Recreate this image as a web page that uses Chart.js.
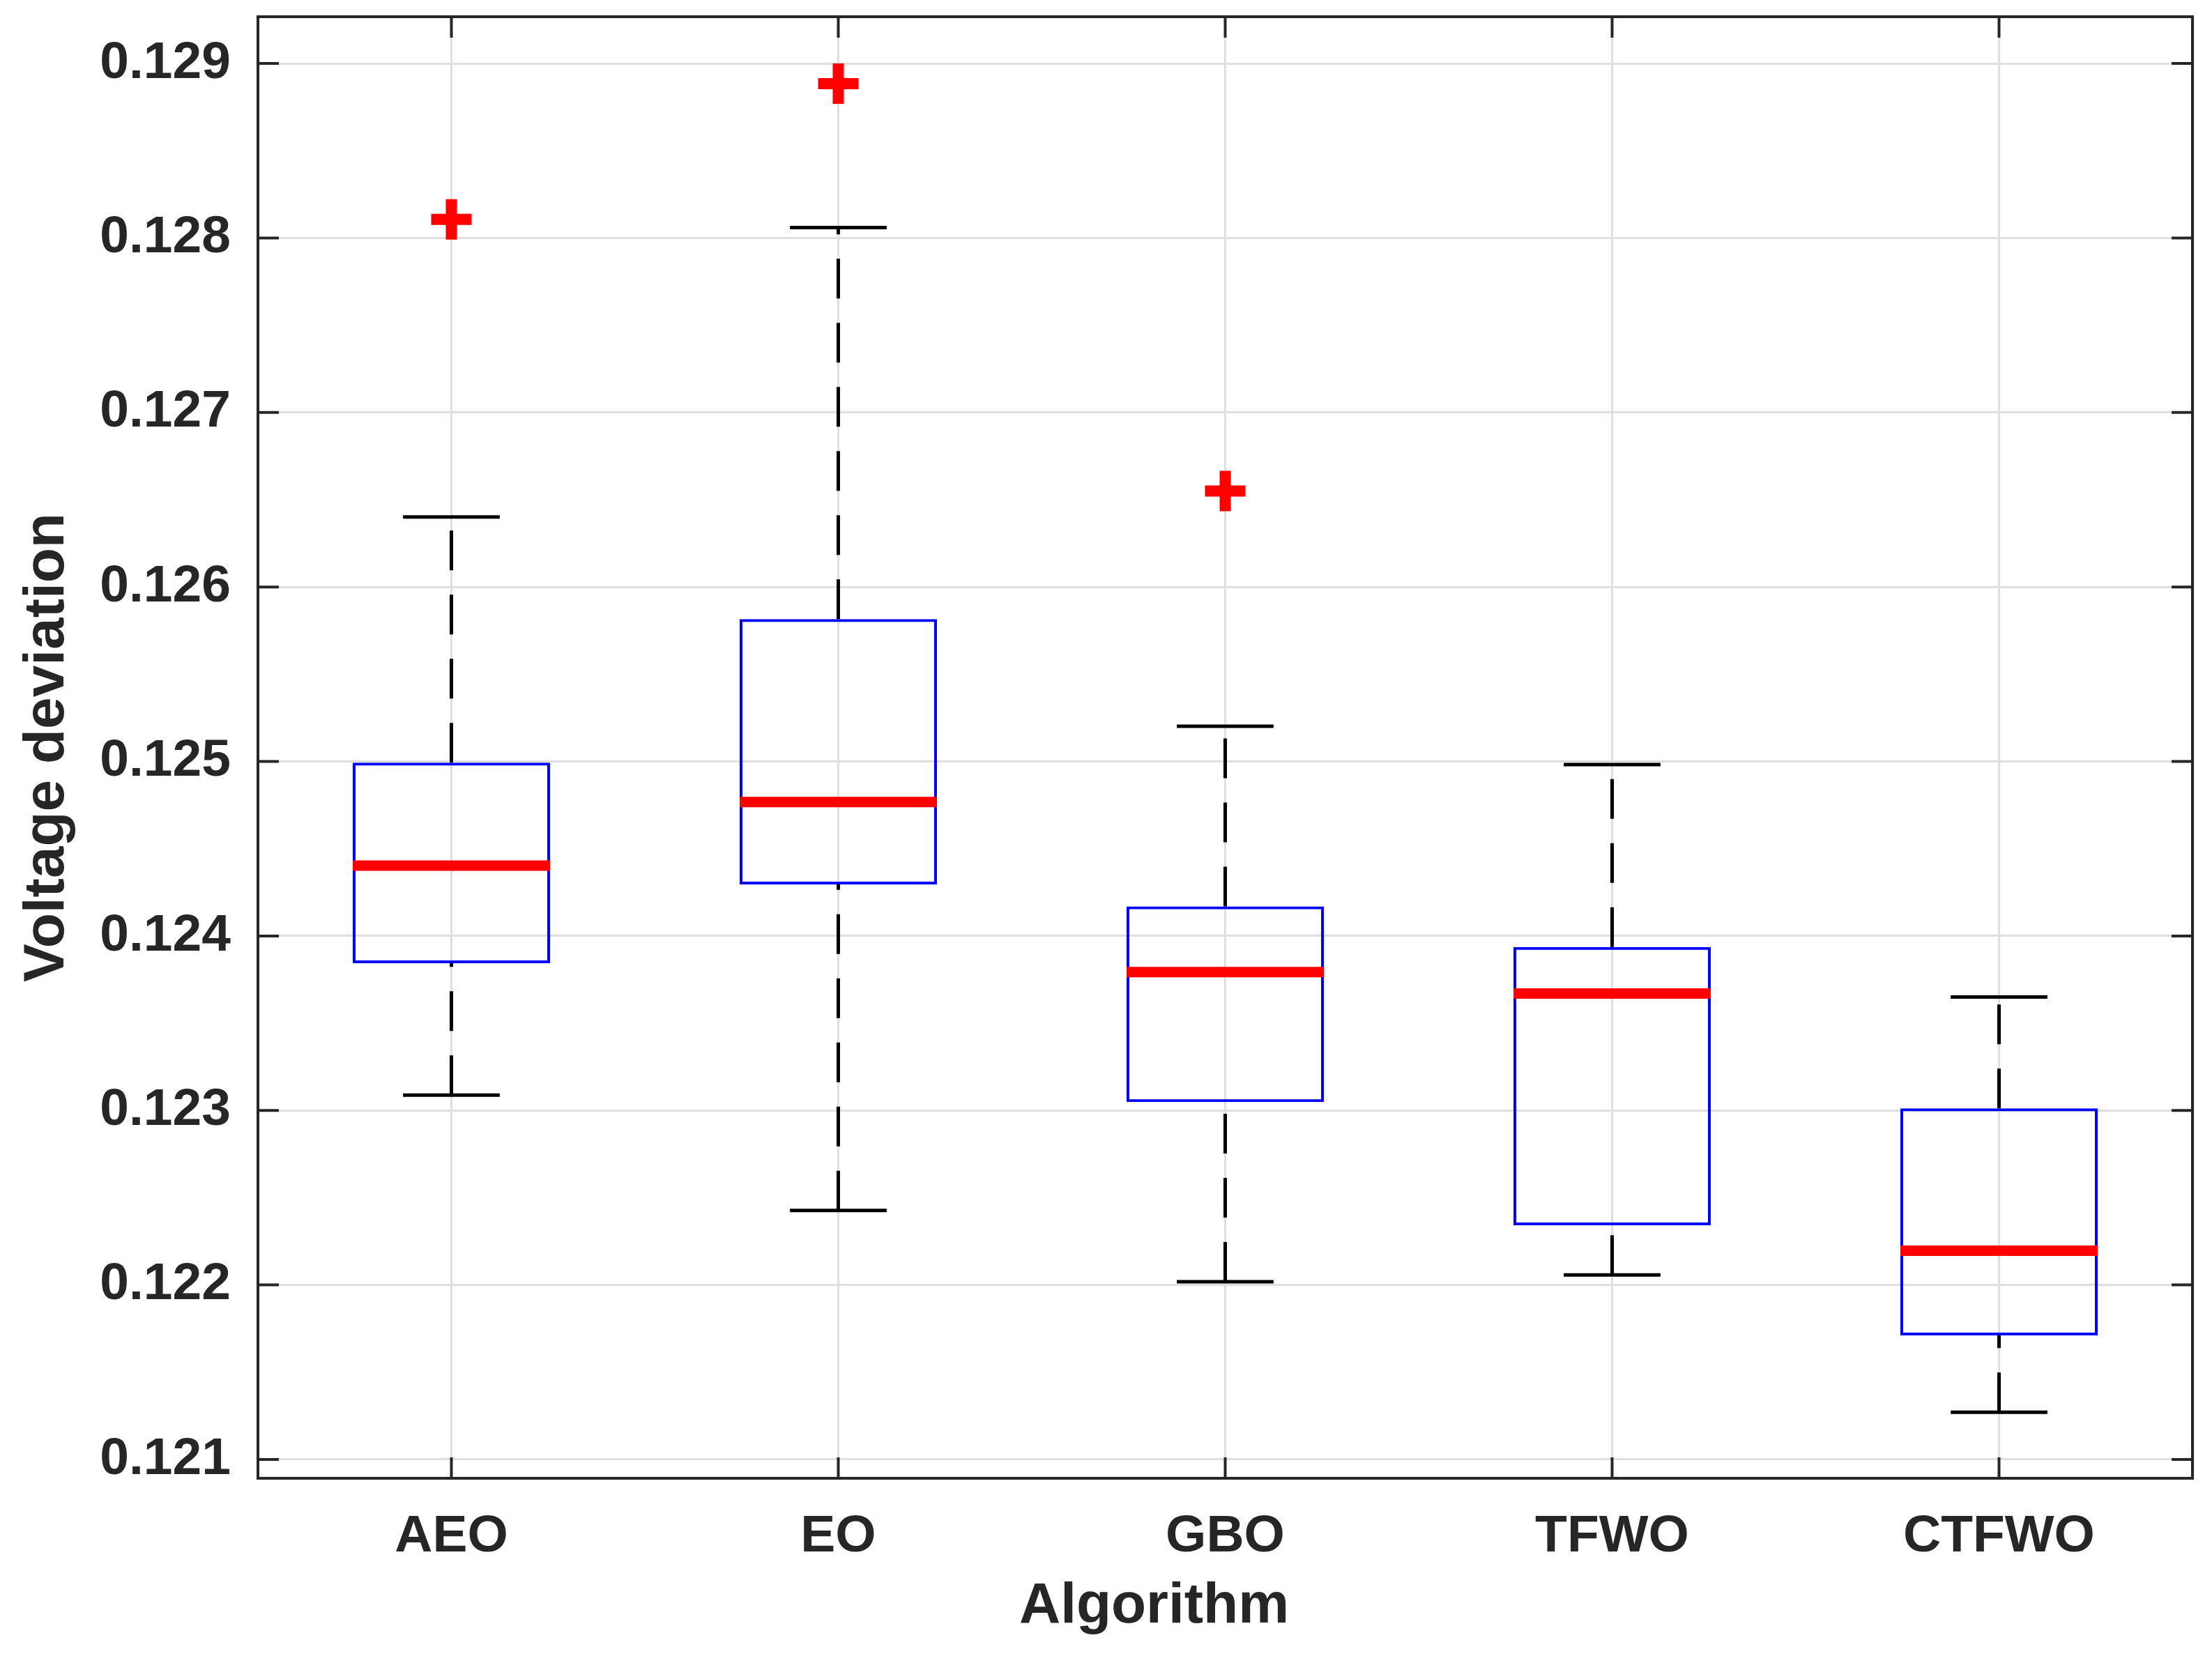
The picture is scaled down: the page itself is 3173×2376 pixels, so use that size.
<!DOCTYPE html>
<html>
<head>
<meta charset="utf-8">
<style>
  html, body { margin: 0; padding: 0; background: #ffffff; }
  #wrap { width: 3173px; height: 2376px; }
</style>
<script src="https://cdn.jsdelivr.net/npm/chart.js@4.4.1/dist/chart.umd.min.js"></script>
</head>
<body>
<div id="wrap"><canvas id="c" width="3173" height="2376"></canvas></div>
<script>
// ---- data ----
const categories   = ['AEO', 'EO', 'GBO', 'TFWO', 'CTFWO'];
const lowerWhisker = [0.123088, 0.122427, 0.122018, 0.122057, 0.121270];
const q1Values     = [0.123844, 0.124295, 0.123048, 0.122342, 0.121711];
const medians      = [0.124403, 0.124767, 0.123793, 0.123670, 0.122196];
const q3Values     = [0.124993, 0.125816, 0.124169, 0.123937, 0.123012];
const upperWhisker = [0.126401, 0.128060, 0.125202, 0.124982, 0.123650];
const outliers     = [0.128107, 0.128885, 0.126550, null, null];
const yTickValues  = [0.121, 0.122, 0.123, 0.124, 0.125, 0.126, 0.127, 0.128, 0.129];
const yTickLabels  = ['0.121', '0.122', '0.123', '0.124', '0.125', '0.126', '0.127', '0.128', '0.129'];
const xTitle = 'Algorithm';
const yTitle = 'Voltage deviation';

const FONT = "'Liberation Sans', Arial, Helvetica, sans-serif";
const TEXT = '#262626';
const GRID = '#dfdfdf';

const boxParts = {
  id: 'boxParts',
  beforeDatasetsDraw(chart) {
    const { ctx, scales: { x, y }, chartArea } = chart;
    const cw = x.getPixelForValue(1) - x.getPixelForValue(0);
    ctx.save();
    ctx.beginPath();
    ctx.rect(chartArea.left, chartArea.top, chartArea.right - chartArea.left, chartArea.bottom - chartArea.top);
    ctx.clip();
    ctx.strokeStyle = '#000000';
    ctx.lineWidth = 5;
    ctx.lineCap = 'butt';
    categories.forEach((c, i) => {
      const px = x.getPixelForValue(i);
      // dashed whiskers, drawn upward in value
      ctx.setLineDash([57, 35]);
      ctx.beginPath();
      ctx.moveTo(px, y.getPixelForValue(q3Values[i]));
      ctx.lineTo(px, y.getPixelForValue(upperWhisker[i]));
      ctx.stroke();
      ctx.beginPath();
      ctx.moveTo(px, y.getPixelForValue(lowerWhisker[i]));
      ctx.lineTo(px, y.getPixelForValue(q1Values[i]));
      ctx.stroke();
      // caps
      ctx.setLineDash([]);
      const half = cw * 0.125;
      [upperWhisker[i], lowerWhisker[i]].forEach(v => {
        const py = y.getPixelForValue(v);
        ctx.beginPath();
        ctx.moveTo(px - half, py);
        ctx.lineTo(px + half, py);
        ctx.stroke();
      });
    });
    ctx.restore();
  },
  afterDatasetsDraw(chart) {
    const { ctx, scales: { x, y }, chartArea } = chart;
    const meta = chart.getDatasetMeta(0);
    ctx.save();
    // medians
    ctx.strokeStyle = '#ff0000';
    ctx.lineWidth = 15;
    ctx.lineCap = 'butt';
    categories.forEach((c, i) => {
      const bar = meta.data[i];
      const px = x.getPixelForValue(i);
      const py = y.getPixelForValue(medians[i]);
      ctx.beginPath();
      ctx.moveTo(px - bar.width / 2, py);
      ctx.lineTo(px + bar.width / 2, py);
      ctx.stroke();
    });
    // frame
    ctx.strokeStyle = TEXT;
    ctx.lineWidth = 4;
    ctx.strokeRect(chartArea.left, chartArea.top, chartArea.right - chartArea.left, chartArea.bottom - chartArea.top);
    // inner tick marks
    const tl = 30;
    ctx.beginPath();
    y.ticks.forEach(t => {
      const py = y.getPixelForValue(t.value);
      ctx.moveTo(chartArea.left, py); ctx.lineTo(chartArea.left + tl, py);
      ctx.moveTo(chartArea.right, py); ctx.lineTo(chartArea.right - tl, py);
    });
    x.ticks.forEach((t, i) => {
      const px = x.getPixelForValue(i);
      ctx.moveTo(px, chartArea.top); ctx.lineTo(px, chartArea.top + tl);
      ctx.moveTo(px, chartArea.bottom); ctx.lineTo(px, chartArea.bottom - tl);
    });
    ctx.stroke();
    // x-axis title (sits a little left of the axis centre in the reference)
    ctx.fillStyle = TEXT;
    ctx.font = "bold 82px " + FONT;
    ctx.textAlign = 'center';
    ctx.textBaseline = 'middle';
    const cx = (chartArea.left + chartArea.right) / 2 - 102;
    ctx.fillText(xTitle, cx, chartArea.bottom + 184);
    ctx.restore();
  }
};

new Chart(document.getElementById('c'), {
  type: 'bar',
  data: {
    labels: categories,
    datasets: [
      {
        label: 'box',
        data: categories.map((c, i) => [q1Values[i], q3Values[i]]),
        backgroundColor: 'rgba(0,0,0,0)',
        borderColor: '#0000ff',
        borderWidth: 4,
        borderSkipped: false,
        categoryPercentage: 1.0,
        barPercentage: 0.51,
        order: 2
      },
      {
        type: 'line',
        label: 'outliers',
        data: outliers,
        showLine: false,
        pointStyle: 'cross',
        pointRadius: 29,
        pointHoverRadius: 29,
        pointBorderWidth: 16,
        pointBorderColor: '#ff0000',
        pointBackgroundColor: '#ff0000',
        order: 1
      }
    ]
  },
  options: {
    responsive: false,
    devicePixelRatio: 1,
    animation: false,
    events: [],
    layout: { autoPadding: false, padding: { left: 0, right: 28, top: 24, bottom: 0 } },
    plugins: { legend: { display: false }, tooltip: { enabled: false } },
    scales: {
      x: {
        type: 'category',
        offset: true,
        grid: { offset: false, color: GRID, lineWidth: 3, drawTicks: false },
        border: { display: false },
        ticks: { color: TEXT, padding: 39, font: { family: FONT, size: 75, weight: 'bold' }, maxRotation: 0 },
        title: { display: false, text: xTitle },
        afterFit(scale) { scale.height = 255; scale.paddingLeft = 0; scale.paddingRight = 0; }
      },
      y: {
        type: 'linear',
        min: 0.120892,
        max: 0.129268,
        grid: { color: GRID, lineWidth: 3, drawTicks: false },
        border: { display: false },
        afterBuildTicks(scale) { scale.ticks = yTickValues.map(v => ({ value: v })); },
        ticks: {
          color: TEXT, padding: 39,
          font: { family: FONT, size: 75, weight: 'bold' },
          callback(value, index) { return yTickLabels[index]; }
        },
        title: { display: true, text: yTitle, color: TEXT, font: { family: FONT, size: 82, weight: 'bold' }, padding: { top: 19, bottom: 0 } },
        afterFit(scale) { scale.width = 370; scale.paddingTop = 0; scale.paddingBottom = 0; }
      }
    }
  },
  plugins: [boxParts]
});
</script>
</body>
</html>
